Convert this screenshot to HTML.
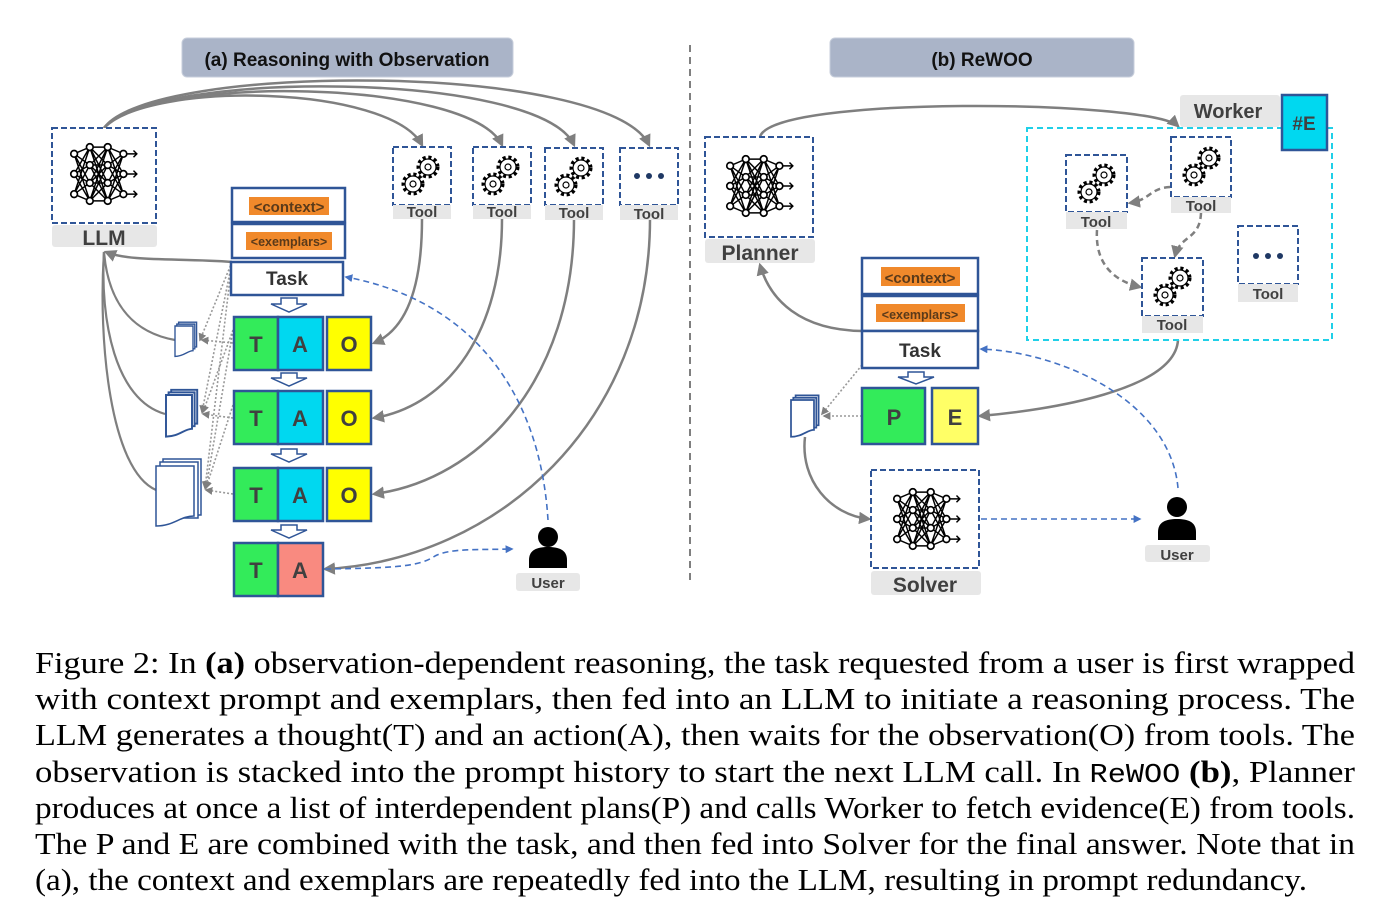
<!DOCTYPE html>
<html><head><meta charset="utf-8"><style>
html,body{margin:0;padding:0;background:#fff}
svg{display:block}
.lbl{font-family:"Liberation Sans",sans-serif;font-weight:bold;fill:#404040;text-anchor:middle}
.cap{font-family:"Liberation Serif",serif;font-size:31px;fill:#000}
</style></head><body>
<svg width="1394" height="920" viewBox="0 0 1394 920" xmlns="http://www.w3.org/2000/svg">
<defs>
<marker id="ag" viewBox="0 0 10 10" refX="8" refY="5" markerWidth="5" markerHeight="5" orient="auto"><path d="M0,0L10,5L0,10z" fill="#7f7f7f"/></marker>
<marker id="ab" viewBox="0 0 10 10" refX="8" refY="5" markerWidth="5" markerHeight="5" orient="auto"><path d="M0,0L10,5L0,10z" fill="#4472c4"/></marker>
<g id="nn0" stroke="#000" stroke-width="1.3" fill="none">
<path d="M-24 -18L-10 -24M-24 -18L-10 -8M-24 -18L-10 8M-24 -18L-10 24M-24 0L-10 -24M-24 0L-10 -8M-24 0L-10 8M-24 0L-10 24M-24 18L-10 -24M-24 18L-10 -8M-24 18L-10 8M-24 18L-10 24"/>
<path d="M-10 -24L6 -24M-10 -24L6 -8M-10 -24L6 8M-10 -24L6 24M-10 -8L6 -24M-10 -8L6 -8M-10 -8L6 8M-10 -8L6 24M-10 8L6 -24M-10 8L6 -8M-10 8L6 8M-10 8L6 24M-10 24L6 -24M-10 24L6 -8M-10 24L6 8M-10 24L6 24"/>
<path d="M6 -24L20 -18M6 -24L20 0M6 -24L20 18M6 -8L20 -18M6 -8L20 0M6 -8L20 18M6 8L20 -18M6 8L20 0M6 8L20 18M6 24L20 -18M6 24L20 0M6 24L20 18M20 -18L32 -18M20 0L32 0M20 18L32 18M29 -21L32 -18L29 -15M29 -3L32 0L29 3M29 15L32 18L29 21"/>
<g fill="#fff" stroke-width="1.5"><circle cx="-24" cy="-18" r="3"/><circle cx="-24" cy="0" r="3"/><circle cx="-24" cy="18" r="3"/><circle cx="-10" cy="-24" r="3"/><circle cx="-10" cy="-8" r="3"/><circle cx="-10" cy="8" r="3"/><circle cx="-10" cy="24" r="3"/><circle cx="6" cy="-24" r="3"/><circle cx="6" cy="-8" r="3"/><circle cx="6" cy="8" r="3"/><circle cx="6" cy="24" r="3"/><circle cx="20" cy="-18" r="3"/><circle cx="20" cy="0" r="3"/><circle cx="20" cy="18" r="3"/></g>
</g>
<g id="nn"><use href="#nn0" transform="scale(1.12)"/></g>
<g id="gear"><circle r="9.5" fill="none" stroke="#000" stroke-width="4" stroke-dasharray="3 2.6"/><circle r="8" fill="#fff" stroke="#000" stroke-width="1.2"/><circle r="3" fill="none" stroke="#000" stroke-width="1.2"/></g>
<g id="gears"><use href="#gear" x="8" y="-9"/><use href="#gear" x="-7" y="8"/></g>
<g id="doc1" fill="#fff" stroke="#2f5597" stroke-width="1.5"><path d="M4,-4h20v26h-20z"/><path d="M2,-2h20v26h-20z"/><path d="M0,0h20v26c-6,0 -10,6 -20,6z"/></g>
</defs>

<rect x="182" y="38" width="331" height="39" rx="5" fill="#aab4c8" stroke="#c7cedb"/>
<text x="347" y="66" class="lbl" style="font-size:19px;fill:#111">(a) Reasoning with Observation</text>
<rect x="830" y="38" width="304" height="39" rx="5" fill="#aab4c8" stroke="#c7cedb"/>
<text x="982" y="66" class="lbl" style="font-size:19px;fill:#111">(b) ReWOO</text>
<line x1="690" y1="45" x2="690" y2="585" stroke="#7f7f7f" stroke-width="2" stroke-dasharray="7 5"/>

<g fill="none" stroke="#7f7f7f" stroke-width="2.5" marker-end="url(#ag)">
<path d="M104,128 C150,80 390,85 422,145"/>
<path d="M104,128 C150,75 470,78 502,145"/>
<path d="M104,128 C150,70 540,70 574,145"/>
<path d="M104,128 C150,62 610,62 649,145"/>
<path d="M422,219 C422,290 405,330 374,343"/>
<path d="M502,219 C502,330 450,405 374,418"/>
<path d="M574,219 C574,380 480,480 374,494"/>
<path d="M650,219 C650,420 500,560 325,569"/>
<path d="M232,262 C180,258 130,262 106,252"/>
</g>
<g fill="none" stroke="#7f7f7f" stroke-width="2.2">
<path d="M175,340 C130,332 108,300 104,252"/>
<path d="M165,414 C115,400 100,320 104,252"/>
<path d="M156,490 C110,470 98,340 104,252"/>
</g>
<g fill="none" stroke="#999" stroke-width="1.6" stroke-dasharray="2 2" marker-end="url(#ag)">
<path d="M232,262 L200,340"/><path d="M232,262 L202,412"/><path d="M232,262 L205,488"/>
<path d="M233,330 L203,412"/><path d="M233,330 L206,488"/><path d="M233,405 L206,488"/>
<path d="M233,343 L202,340"/><path d="M233,418 L203,414"/><path d="M233,494 L206,490"/>
</g>
<g fill="none" stroke="#4472c4" stroke-width="1.6" stroke-dasharray="6 4" marker-end="url(#ab)">
<path d="M548,520 C540,390 470,300 346,277"/>
<path d="M325,569 C400,568 420,566 435,556 C450,548 480,550 512,549"/>
</g>

<rect x="52" y="128" width="104" height="95" fill="#fff" stroke="#2f5597" stroke-width="2" stroke-dasharray="6 3"/>
<use href="#nn" x="101" y="174"/>
<rect x="52" y="225" width="105" height="22" rx="3" fill="#e7e7e7"/>
<text x="104" y="245" class="lbl" style="font-size:21px">LLM</text>

<g stroke="#2f5597" stroke-width="2" stroke-dasharray="6 3" fill="#fff">
<rect x="393" y="147" width="58" height="58"/><rect x="473" y="147" width="58" height="58"/>
<rect x="545" y="148" width="58" height="57"/><rect x="620" y="148" width="58" height="57"/>
</g>
<use href="#gears" x="420" y="176"/><use href="#gears" x="500" y="176"/><use href="#gears" x="573" y="177"/>
<g fill="#1f3864"><circle cx="637" cy="176" r="3"/><circle cx="649" cy="176" r="3"/><circle cx="661" cy="176" r="3"/></g>
<g fill="#e7e7e7"><rect x="393" y="205" width="58" height="14"/><rect x="473" y="205" width="58" height="14"/><rect x="545" y="205" width="58" height="15"/><rect x="620" y="205" width="58" height="15"/></g>
<text x="422" y="217" class="lbl" style="font-size:15px">Tool</text><text x="502" y="217" class="lbl" style="font-size:15px">Tool</text><text x="574" y="218" class="lbl" style="font-size:15px">Tool</text><text x="649" y="219" class="lbl" style="font-size:15px">Tool</text>

<g fill="#fff" stroke="#2f5597" stroke-width="2.5">
<rect x="232" y="188" width="113" height="34"/><rect x="232" y="224" width="113" height="34"/><rect x="231" y="262" width="112" height="33"/>
</g>
<rect x="249" y="197" width="80" height="18" fill="#f0892b"/>
<rect x="246" y="232" width="86" height="18" fill="#f0892b"/>
<text x="289" y="212" class="lbl" style="font-size:15px;fill:#5a3a1a">&lt;context&gt;</text>
<text x="289" y="246" class="lbl" style="font-size:12.5px;fill:#5a3a1a">&lt;exemplars&gt;</text>
<text x="287" y="285" class="lbl" style="font-size:19px;fill:#333">Task</text>

<g fill="#fff" stroke="#2f5597" stroke-width="1.5">
<path d="M281,298h16v6h10l-18,8l-18,-8h10z"/>
<path d="M281,373h16v5h10l-18,8l-18,-8h10z"/>
<path d="M281,449h16v5h10l-18,8l-18,-8h10z"/>
<path d="M281,525h16v5h10l-18,8l-18,-8h10z"/>
</g>

<g stroke="#2f5597" stroke-width="2.5">
<rect x="234" y="317" width="44" height="53" fill="#33eb5a"/><rect x="278" y="317" width="45" height="53" fill="#00d8f0"/><rect x="327" y="317" width="44" height="53" fill="#ffff00"/>
<rect x="234" y="391" width="44" height="53" fill="#33eb5a"/><rect x="278" y="391" width="45" height="53" fill="#00d8f0"/><rect x="327" y="391" width="44" height="53" fill="#ffff00"/>
<rect x="234" y="468" width="44" height="53" fill="#33eb5a"/><rect x="278" y="468" width="45" height="53" fill="#00d8f0"/><rect x="327" y="468" width="44" height="53" fill="#ffff00"/>
<rect x="234" y="543" width="44" height="53" fill="#33eb5a"/><rect x="278" y="543" width="45" height="53" fill="#f98a80"/>
</g>
<g style="font-size:22px">
<text x="256" y="352" class="lbl" style="font-size:22px">T</text><text x="300" y="352" class="lbl" style="font-size:22px">A</text><text x="349" y="352" class="lbl" style="font-size:22px">O</text>
<text x="256" y="426" class="lbl" style="font-size:22px">T</text><text x="300" y="426" class="lbl" style="font-size:22px">A</text><text x="349" y="426" class="lbl" style="font-size:22px">O</text>
<text x="256" y="503" class="lbl" style="font-size:22px">T</text><text x="300" y="503" class="lbl" style="font-size:22px">A</text><text x="349" y="503" class="lbl" style="font-size:22px">O</text>
<text x="256" y="578" class="lbl" style="font-size:22px">T</text><text x="300" y="578" class="lbl" style="font-size:22px">A</text>
</g>

<use href="#doc1" transform="translate(175,326) scale(0.9,0.95)"/>
<use href="#doc1" transform="translate(166,395) scale(1.3,1.3)"/>
<g fill="#fff" stroke="#2f5597" stroke-width="1.5"><path d="M163,459h38v56h-38z"/><path d="M160,462h38v56h-38z"/><path d="M156,466h38v50c-14,0 -20,10 -38,10z"/></g>

<circle cx="548" cy="537" r="10" fill="#000"/>
<path d="M529,568 v-8 c0,-10 8,-13 19,-13 c11,0 19,3 19,13 v8z" fill="#000"/>
<rect x="516" y="573" width="64" height="18" rx="3" fill="#e7e7e7"/>
<text x="548" y="588" class="lbl" style="font-size:15px">User</text>

<g fill="none" stroke="#7f7f7f" stroke-width="2.5" marker-end="url(#ag)">
<path d="M760,137 C770,95 1150,100 1178,126"/>
<path d="M862,331 C800,330 770,300 760,265"/>
<path d="M1178,340 C1175,390 1050,410 980,416"/>
<path d="M805,437 C800,480 830,515 869,519"/>
</g>
<g fill="none" stroke="#7f7f7f" stroke-width="2.5" stroke-dasharray="6 4" marker-end="url(#ag)">
<path d="M1170,187 C1150,188 1150,200 1130,203"/>
<path d="M1201,213 C1200,240 1180,235 1175,256"/>
<path d="M1097,230 C1095,260 1110,280 1140,287"/>
</g>
<g fill="none" stroke="#999" stroke-width="1.6" stroke-dasharray="2 2" marker-end="url(#ag)">
<path d="M862,365 L822,414"/><path d="M862,416 L824,416"/>
</g>
<g fill="none" stroke="#4472c4" stroke-width="1.6" stroke-dasharray="6 4" marker-end="url(#ab)">
<path d="M1178,488 C1170,400 1060,352 981,349"/>
<path d="M981,519 L1140,519"/>
</g>

<rect x="705" y="137" width="108" height="100" fill="#fff" stroke="#2f5597" stroke-width="2" stroke-dasharray="6 3"/>
<use href="#nn" x="757" y="186"/>
<rect x="705" y="239" width="110" height="24" rx="3" fill="#e7e7e7"/>
<text x="760" y="260" class="lbl" style="font-size:21px">Planner</text>

<rect x="1027" y="128" width="305" height="212" fill="none" stroke="#1fd0e8" stroke-width="2" stroke-dasharray="6 4"/>
<rect x="1180" y="95" width="100" height="32" rx="3" fill="#e7e7e7"/>
<text x="1228" y="118" class="lbl" style="font-size:20px">Worker</text>
<rect x="1282" y="95" width="45" height="55" fill="#00d8f0" stroke="#2f5597" stroke-width="2.5"/>
<text x="1304" y="130" class="lbl" style="font-size:19px">#E</text>
<g stroke="#2f5597" stroke-width="2" stroke-dasharray="6 3" fill="#fff">
<rect x="1066" y="155" width="61" height="57"/><rect x="1171" y="137" width="60" height="60"/>
<rect x="1142" y="258" width="61" height="58"/><rect x="1238" y="226" width="60" height="58"/>
</g>
<use href="#gears" x="1096" y="184"/><use href="#gears" x="1201" y="167"/><use href="#gears" x="1172" y="287"/>
<g fill="#1f3864"><circle cx="1256" cy="256" r="3"/><circle cx="1268" cy="256" r="3"/><circle cx="1280" cy="256" r="3"/></g>
<g fill="#e7e7e7"><rect x="1066" y="212" width="61" height="17"/><rect x="1171" y="197" width="60" height="16"/><rect x="1142" y="316" width="61" height="17"/><rect x="1238" y="284" width="60" height="18"/></g>
<text x="1096" y="227" class="lbl" style="font-size:15px">Tool</text>
<text x="1201" y="211" class="lbl" style="font-size:15px">Tool</text>
<text x="1172" y="330" class="lbl" style="font-size:15px">Tool</text>
<text x="1268" y="299" class="lbl" style="font-size:15px">Tool</text>

<g fill="#fff" stroke="#2f5597" stroke-width="2.5">
<rect x="862" y="258" width="116" height="36"/><rect x="862" y="296" width="116" height="35"/><rect x="862" y="331" width="116" height="37"/>
</g>
<rect x="881" y="267" width="79" height="19" fill="#f0892b"/>
<rect x="876" y="304" width="89" height="18" fill="#f0892b"/>
<text x="920" y="283" class="lbl" style="font-size:15px;fill:#5a3a1a">&lt;context&gt;</text>
<text x="920" y="319" class="lbl" style="font-size:12.5px;fill:#5a3a1a">&lt;exemplars&gt;</text>
<text x="920" y="357" class="lbl" style="font-size:19px;fill:#333">Task</text>
<path d="M908,372h16v5h10l-18,7l-18,-7h10z" fill="#fff" stroke="#2f5597" stroke-width="1.5"/>
<g stroke="#2f5597" stroke-width="2.5">
<rect x="862" y="388" width="63" height="56" fill="#33eb5a"/><rect x="932" y="388" width="46" height="56" fill="#ffff66"/>
</g>
<text x="894" y="425" class="lbl" style="font-size:22px">P</text>
<text x="955" y="425" class="lbl" style="font-size:22px">E</text>
<use href="#doc1" transform="translate(791,400) scale(1.15,1.15)"/>

<rect x="871" y="470" width="108" height="98" fill="#fff" stroke="#2f5597" stroke-width="2" stroke-dasharray="6 3"/>
<use href="#nn" x="924" y="519"/>
<rect x="871" y="571" width="110" height="24" rx="3" fill="#e7e7e7"/>
<text x="925" y="592" class="lbl" style="font-size:21px">Solver</text>

<circle cx="1177" cy="507" r="10" fill="#000"/>
<path d="M1158,540 v-8 c0,-10 8,-13 19,-13 c11,0 19,3 19,13 v8z" fill="#000"/>
<rect x="1145" y="545" width="65" height="17" rx="3" fill="#e7e7e7"/>
<text x="1177" y="560" class="lbl" style="font-size:15px">User</text>

<text class="cap" x="35" y="673" textLength="1320" lengthAdjust="spacingAndGlyphs">Figure 2: In <tspan font-weight="bold">(a)</tspan> observation-dependent reasoning, the task requested from a user is first wrapped</text>
<text class="cap" x="35" y="709" textLength="1320" lengthAdjust="spacingAndGlyphs">with context prompt and exemplars, then fed into an LLM to initiate a reasoning process.  The</text>
<text class="cap" x="35" y="745" textLength="1320" lengthAdjust="spacingAndGlyphs">LLM generates a thought(T) and an action(A), then waits for the observation(O) from tools. The</text>
<text class="cap" x="35" y="782" textLength="1320" lengthAdjust="spacingAndGlyphs">observation is stacked into the prompt history to start the next LLM call. In <tspan font-family="Liberation Mono, monospace" font-size="27">ReWOO</tspan> <tspan font-weight="bold">(b)</tspan>, Planner</text>
<text class="cap" x="35" y="818" textLength="1320" lengthAdjust="spacingAndGlyphs">produces at once a list of interdependent plans(P) and calls Worker to fetch evidence(E) from tools.</text>
<text class="cap" x="35" y="854" textLength="1320" lengthAdjust="spacingAndGlyphs">The P and E are combined with the task, and then fed into Solver for the final answer. Note that in</text>
<text class="cap" x="35" y="890" textLength="1272" lengthAdjust="spacingAndGlyphs">(a), the context and exemplars are repeatedly fed into the LLM, resulting in prompt redundancy.</text>
</svg>
</body></html>
